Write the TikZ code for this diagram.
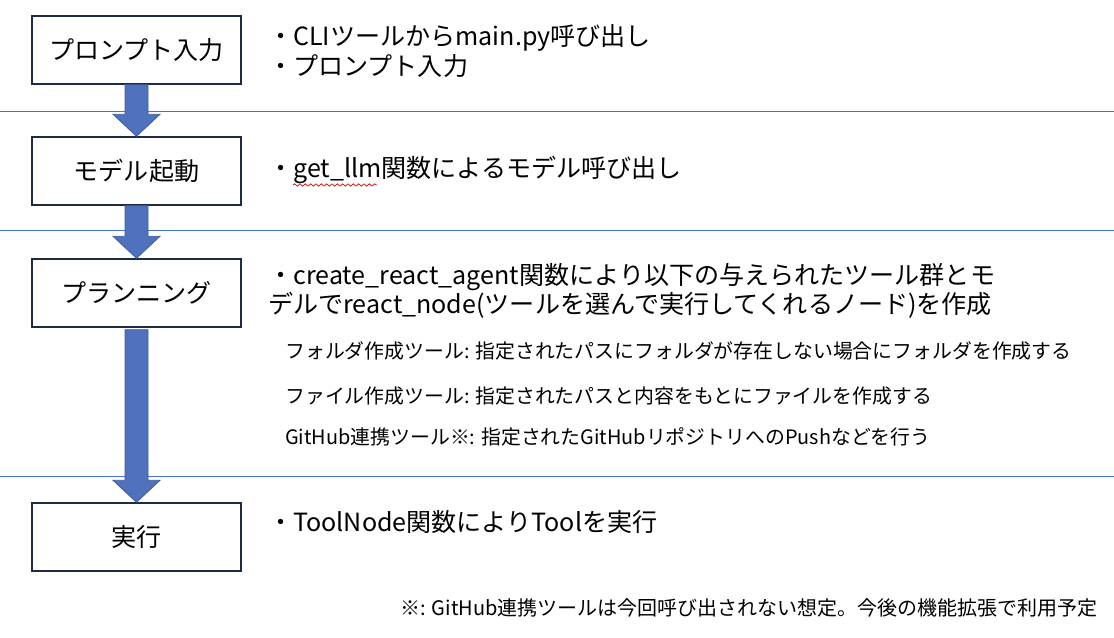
\documentclass[tikz,border=0pt]{standalone}
\usepackage{fontspec}
\setmainfont{Noto Sans CJK JP}
\usetikzlibrary{calc,decorations.pathmorphing}
\definecolor{sepline}{HTML}{4472C4}
\definecolor{arrowfill}{HTML}{4F71BE}
\definecolor{arrowline}{HTML}{3E5C9E}
\definecolor{boxline}{HTML}{1F2A44}
\tikzset{
  stepbox/.style={draw=boxline, line width=1.1pt, fill=white, minimum width=209*0.75pt, minimum height=68*0.75pt, inner sep=0pt, font=\fontsize{18.8pt}{21pt}\selectfont},
  maintext/.style={anchor=west, inner sep=0pt, font=\fontsize{18.8pt}{22pt}\selectfont},
  subtext/.style={anchor=west, inner sep=0pt, font=\fontsize{14.9pt}{17pt}\selectfont},
  noteText/.style={anchor=east, inner sep=0pt, font=\fontsize{15pt}{17pt}\selectfont},
  sep/.style={draw=sepline, line width=0.75pt},
  blockarrow/.style={fill=arrowfill, draw=arrowline, line width=0.6pt}
}
\newcommand\blockarr[3]{%
  \path[blockarrow] ($(#1.south)+(-11.5,#3)$) -- ($(#2.north)+(-11.5,-22)$) -- ($(#2.north)+(-23.5,-22)$) -- (#2.north) -- ($(#2.north)+(23.5,-22)$) -- ($(#2.north)+(11.5,-22)$) -- ($(#1.south)+(11.5,#3)$) -- cycle;}
\begin{document}
\begin{tikzpicture}[x=0.75pt,y=-0.75pt]
\useasboundingbox (0,0) rectangle (1114,638);
% separators
\coordinate (l1a) at (0,112); \coordinate (l1b) at (1114,112);
\coordinate (l2a) at (0,231); \coordinate (l2b) at (1114,231);
\coordinate (l3a) at (0,476); \coordinate (l3b) at (1114,476);
\draw[sep] (l1a) -- (l1b);
\draw[sep] (l2a) -- (l2b);
\draw[sep] (l3a) -- (l3b);
% boxes
\node[stepbox] (b1) at (136.5,50) {プロンプト入力};
\node[stepbox] (b2) at (136.5,171) {モデル起動};
\node[stepbox] (b3) at (136.5,293) {プランニング};
\node[stepbox] (b4) at (136.5,537) {実行};
% arrows
\blockarr{b1}{b2}{0}
\blockarr{b2}{b3}{0}
\blockarr{b3}{b4}{2}
% texts
\node[maintext] (t1) at (268,38) {・CLIツールからmain.py呼び出し};
\node[maintext] (t2) at (268,66) {・プロンプト入力};
\node[maintext] (t3) at (268,170) {・get\_llm関数によるモデル呼び出し};
\node[maintext] (t4) at (268,277) {・create\_react\_agent関数により以下の与えられたツール群とモ};
\node[maintext] (t5) at (268,305) {デルでreact\_node(ツールを選んで実行してくれるノード)を作成};
\node[subtext] (s1) at (285,351) {フォルダ作成ツール: 指定されたパスにフォルダが存在しない場合にフォルダを作成する};
\node[subtext] (s2) at (285,396) {ファイル作成ツール: 指定されたパスと内容をもとにファイルを作成する};
\node[subtext] (s3) at (285,437) {GitHub連携ツール※: 指定されたGitHubリポジトリへのPushなどを行う};
\node[maintext] (t6) at (268,522) {・ToolNode関数によりToolを実行};
\node[noteText] (n1) at (1098,608) {※: GitHub連携ツールは今回呼び出されない想定。今後の機能拡張で利用予定};
% spell-check underline
\coordinate (w1) at (293,185); \coordinate (w2) at (377,185);
\draw[red!85!black, line width=0.5pt, decorate, decoration={snake, amplitude=0.9pt, segment length=4pt}] (w1) -- (w2);
\end{tikzpicture}
\end{document}
